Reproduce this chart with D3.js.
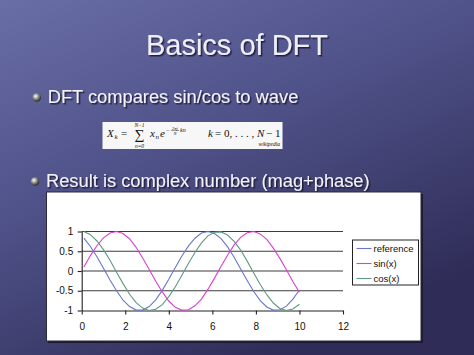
<!DOCTYPE html>
<html>
<head>
<meta charset="utf-8">
<script src="https://cdn.jsdelivr.net/npm/d3@7"></script>
<style>
  html, body { margin: 0; padding: 0; background: #3b3a6a; }
  svg { display: block; }
</style>
</head>
<body>
<div id="viz"></div>
<script>
// data
const xs = [0.1, 0.4, 0.7, 1.0, 1.3, 1.6, 1.9, 2.2, 2.5, 2.8, 3.1, 3.4, 3.7, 4.0, 4.3, 4.6, 4.9,
            5.2, 5.5, 5.8, 6.1, 6.4, 6.7, 7.0, 7.3, 7.6, 7.9, 8.2, 8.5, 8.8, 9.1, 9.4, 9.7, 10.0];
const reference = [0.83, 0.62, 0.36, 0.07, -0.23, -0.50, -0.74, -0.90, -0.99, -0.99, -0.90, -0.73,
                   -0.49, -0.21, 0.09, 0.38, 0.63, 0.83, 0.96, 1.00, 0.95, 0.82, 0.61, 0.35, 0.05,
                   -0.24, -0.52, -0.75, -0.91, -0.99, -0.98, -0.89, -0.71, -0.48];
const sinx = [0.10, 0.39, 0.64, 0.84, 0.96, 1.00, 0.95, 0.81, 0.60, 0.33, 0.04, -0.26, -0.53,
              -0.76, -0.92, -0.99, -0.98, -0.88, -0.71, -0.46, -0.18, 0.12, 0.40, 0.66, 0.85,
              0.97, 1.00, 0.94, 0.80, 0.58, 0.32, 0.03, -0.27, -0.54];
const cosx = [1.00, 0.92, 0.76, 0.54, 0.27, -0.03, -0.32, -0.59, -0.80, -0.94, -1.00, -0.97,
              -0.85, -0.65, -0.40, -0.11, 0.19, 0.47, 0.71, 0.89, 0.98, 0.99, 0.91, 0.75, 0.53,
              0.25, -0.05, -0.34, -0.60, -0.81, -0.95, -1.00, -0.96, -0.84];
const seriesNames = ["reference", "sin(x)", "cos(x)"];
const xTicks = [0, 2, 4, 6, 8, 10, 12];
const yTicks = [-1, -0.5, 0, 0.5, 1];

const W = 474, H = 355;
const sans = "'Liberation Sans', Arial, sans-serif";
const serif = "'Liberation Serif', 'Times New Roman', serif";

const svg = d3.select("#viz").append("svg")
    .attr("width", W)
    .attr("height", H);

const defs = svg.append("defs");

// slide background
const bg = defs.append("linearGradient")
    .attr("id", "bg")
    .attr("x1", 0).attr("y1", 0).attr("x2", 0.6).attr("y2", 1);
bg.append("stop").attr("offset", 0).attr("stop-color", "#6a6ea6");
bg.append("stop").attr("offset", 0.45).attr("stop-color", "#50538a");
bg.append("stop").attr("offset", 1).attr("stop-color", "#2f2c57");

const ball = defs.append("radialGradient")
    .attr("id", "ball")
    .attr("cx", 0.38).attr("cy", 0.35).attr("r", 0.65);
ball.append("stop").attr("offset", 0).attr("stop-color", "#ffffff");
ball.append("stop").attr("offset", 0.45).attr("stop-color", "#9a9a9a");
ball.append("stop").attr("offset", 1).attr("stop-color", "#2a2a2a");

const shadow = defs.append("filter").attr("id", "shadow")
    .attr("x", -0.1).attr("y", -0.2).attr("width", 1.3).attr("height", 1.5);
shadow.append("feDropShadow")
    .attr("dx", 1.5).attr("dy", 1.5).attr("stdDeviation", 0.6)
    .attr("flood-color", "#1a1838").attr("flood-opacity", 0.9);

svg.append("rect")
    .attr("width", W).attr("height", H)
    .attr("fill", "url(#bg)");

// title
svg.append("text")
    .attr("x", 237).attr("y", 55)
    .attr("text-anchor", "middle")
    .attr("font-family", sans)
    .attr("font-size", 29)
    .attr("fill", "#eeeef6")
    .attr("filter", "url(#shadow)")
    .text("Basics of DFT");

// bullets
const bullets = [
    {text: "DFT compares sin/cos to wave", bx: 36.7, y: 103},
    {text: "Result is complex number (mag+phase)", bx: 35, y: 187}
];
bullets.forEach(b => {
    svg.append("circle")
        .attr("cx", b.bx).attr("cy", b.y - 5.5).attr("r", 4.3)
        .attr("fill", "url(#ball)");
    svg.append("text")
        .attr("x", b.bx + 11).attr("y", b.y)
        .attr("font-family", sans)
        .attr("font-size", 18.3)
        .attr("fill", "#f2f2f8")
        .attr("filter", "url(#shadow)")
        .text(b.text);
});

// formula box
const fm = svg.append("g");
fm.append("rect")
    .attr("x", 102.5).attr("y", 122).attr("width", 180).attr("height", 27)
    .attr("fill", "#f7f7f7");
const ft = (x, y, size, txt, italic, anchor) => fm.append("text")
    .attr("x", x).attr("y", y)
    .attr("font-family", serif)
    .attr("font-size", size)
    .attr("font-style", italic ? "italic" : "normal")
    .attr("text-anchor", anchor || "start")
    .attr("fill", "#111")
    .text(txt);
ft(107, 137, 11, "X", true);
ft(114.5, 139, 7, "k", true);
ft(121, 137, 11, "=");
ft(139.5, 139, 14, "\u2211", false, "middle");
ft(139.5, 127, 5.5, "N\u22121", true, "middle");
ft(139.5, 147.5, 5.5, "n=0", true, "middle");
ft(150, 137, 11, "x", true);
ft(155.5, 139, 7, "n", true);
ft(160, 137, 11, "e", true);
ft(166, 132, 6, "\u2212", false);
ft(175, 129.5, 4.5, "2\u03c0j", true, "middle");
fm.append("line")
    .attr("x1", 171).attr("x2", 179).attr("y1", 130.5).attr("y2", 130.5)
    .attr("stroke", "#111").attr("stroke-width", 0.4);
ft(175, 134.5, 4.5, "N", true, "middle");
ft(180, 132, 6, "kn", true);
ft(208, 137, 11, "k", true);
ft(215, 137, 11, "= 0, . . . , ");
ft(257, 137, 11, "N", true);
ft(266, 137, 11, "\u2212 1");
ft(280, 146, 5.5, "wikipedia", true, "end");

// chart area
svg.append("rect")
    .attr("x", 48).attr("y", 194).attr("width", 375).attr("height", 149)
    .attr("fill", "#1c1a30");
svg.append("rect")
    .attr("x", 46.5).attr("y", 192).attr("width", 374.5).attr("height", 149)
    .attr("fill", "#ffffff")
    .attr("stroke", "#2b2a40").attr("stroke-width", 1);

const x = d3.scaleLinear().domain([0, 12]).range([81.7, 343]);
const y = d3.scaleLinear().domain([-1, 1]).range([310.5, 231.5]);

// gridlines
svg.append("g")
    .selectAll("line")
    .data(yTicks.filter(d => d > -1))
    .join("line")
    .attr("x1", x(0)).attr("x2", x(12))
    .attr("y1", d => y(d)).attr("y2", d => y(d))
    .attr("stroke", "#3c3c3c")
    .attr("stroke-width", 1.1);

const xAxis = svg.append("g")
    .attr("transform", `translate(0,${y(-1)})`)
    .call(d3.axisBottom(x).tickValues(xTicks).tickSize(4).tickSizeOuter(0).tickPadding(8));
const yAxis = svg.append("g")
    .attr("transform", `translate(${x(0)},0)`)
    .call(d3.axisLeft(y).tickValues(yTicks).tickSize(4).tickSizeOuter(0).tickPadding(4.5));

[xAxis, yAxis].forEach(a => {
    a.selectAll("path, line").attr("stroke", "#222").attr("stroke-width", 1.1);
    a.selectAll("text")
        .attr("font-family", sans)
        .attr("font-size", 10)
        .attr("fill", "#111");
});
yAxis.selectAll("text").text(d => d < 0 ? "-" + Math.abs(d) : d);

// lines
const colors = ["#6a76c8", "#da3fd0", "#5e9a80"];
const series = [reference, sinx, cosx];
const line = d3.line()
    .x((d, i) => x(xs[i]))
    .y(d => y(d));

svg.append("g")
    .selectAll("path")
    .data(series)
    .join("path")
    .attr("d", d => line(d))
    .attr("fill", "none")
    .attr("stroke", (d, i) => colors[i])
    .attr("stroke-width", 1.1);

// legend
const legend = svg.append("g")
    .attr("transform", "translate(352.5,240)");
legend.append("rect")
    .attr("width", 66).attr("height", 45)
    .attr("fill", "#fff")
    .attr("stroke", "#222").attr("stroke-width", 1);
const items = legend.selectAll(".legend-item")
    .data(seriesNames)
    .join("g")
    .attr("class", "legend-item")
    .attr("transform", (d, i) => `translate(0,${8.5 + i * 15})`);
items.append("line")
    .attr("x1", 4).attr("x2", 19)
    .attr("stroke", (d, i) => colors[i])
    .attr("stroke-width", 1.1);
items.append("text")
    .attr("x", 21).attr("y", 3.5)
    .attr("font-family", sans)
    .attr("font-size", 9.5)
    .attr("fill", "#111")
    .text(d => d);
</script>
</body>
</html>
